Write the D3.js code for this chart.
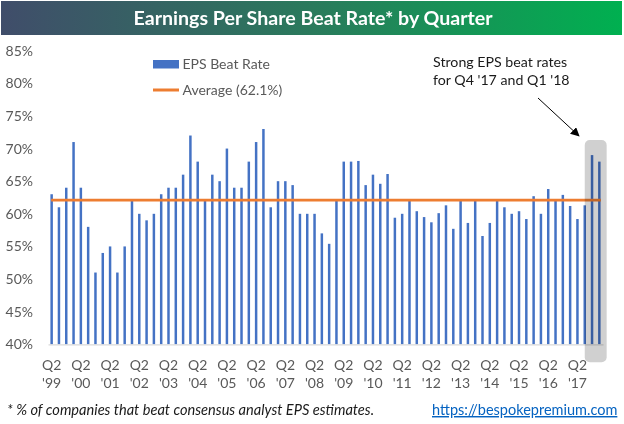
<!DOCTYPE html>
<html><head><meta charset="utf-8">
<script src="https://cdn.jsdelivr.net/npm/d3@7"></script>
<style>body{margin:0;background:#fff}svg{display:block}</style>
</head><body><svg id="c" width="624" height="424"></svg>
<script>
const quarters = [
"Q2 '99","Q3 '99","Q4 '99",
"Q1 '00","Q2 '00","Q3 '00","Q4 '00",
"Q1 '01","Q2 '01","Q3 '01","Q4 '01",
"Q1 '02","Q2 '02","Q3 '02","Q4 '02",
"Q1 '03","Q2 '03","Q3 '03","Q4 '03",
"Q1 '04","Q2 '04","Q3 '04","Q4 '04",
"Q1 '05","Q2 '05","Q3 '05","Q4 '05",
"Q1 '06","Q2 '06","Q3 '06","Q4 '06",
"Q1 '07","Q2 '07","Q3 '07","Q4 '07",
"Q1 '08","Q2 '08","Q3 '08","Q4 '08",
"Q1 '09","Q2 '09","Q3 '09","Q4 '09",
"Q1 '10","Q2 '10","Q3 '10","Q4 '10",
"Q1 '11","Q2 '11","Q3 '11","Q4 '11",
"Q1 '12","Q2 '12","Q3 '12","Q4 '12",
"Q1 '13","Q2 '13","Q3 '13","Q4 '13",
"Q1 '14","Q2 '14","Q3 '14","Q4 '14",
"Q1 '15","Q2 '15","Q3 '15","Q4 '15",
"Q1 '16","Q2 '16","Q3 '16","Q4 '16",
"Q1 '17","Q2 '17","Q3 '17","Q4 '17",
"Q1 '18"];
const beatRate = [
63,61,64,
71,64,58,51,
54,55,51,55,
62,60,59,60,
63,64,64,66,
72,68,62,66,
65,70,64,64,
68,71,73,61,
65,65,64.4,60,
60,60,57,55.4,
62,68,68,68.1,
64.4,66,64.6,66.1,
59.4,60,62,60.4,
59.5,58.7,60.1,61.3,
57.7,62,58.6,62,
56.6,58.6,62,61,
60,60.4,59.2,62.7,
60,63.8,62,62.9,
61.2,59.2,61.3,69,
68];
const averageRate = 62.1;
const yTicks = [40,45,50,55,60,65,70,75,80,85];
const xTickQuarters = ["Q2 '99","Q2 '00","Q2 '01","Q2 '02","Q2 '03","Q2 '04","Q2 '05","Q2 '06","Q2 '07","Q2 '08","Q2 '09","Q2 '10","Q2 '11","Q2 '12","Q2 '13","Q2 '14","Q2 '15","Q2 '16","Q2 '17"];
const highlighted = ["Q4 '17","Q1 '18"];
const seriesNames = ["EPS Beat Rate","Average (62.1%)"];

const FONT = "Lato, 'Open Sans', sans-serif";
const svg = d3.select("#c");
const defs = svg.append("defs");
const grad = defs.append("linearGradient").attr("id","tg").attr("x1","0").attr("x2","1").attr("y1","0").attr("y2","0");
grad.append("stop").attr("offset","0").attr("stop-color","#404d6a");
grad.append("stop").attr("offset","0.5").attr("stop-color","#2a7a5c");
grad.append("stop").attr("offset","1").attr("stop-color","#00b050");
const mk = defs.append("marker").attr("id","ah").attr("viewBox","0 0 10 10").attr("refX","9").attr("refY","5")
  .attr("markerWidth","9").attr("markerHeight","9").attr("markerUnits","userSpaceOnUse").attr("orient","auto");
mk.append("path").attr("d","M0,0L10,5L0,10z").attr("fill","#000");

// title
svg.append("rect").attr("x",1).attr("y",1).attr("width",621).attr("height",34).attr("fill","url(#tg)");
svg.append("text").attr("x",313).attr("y",25).attr("text-anchor","middle").attr("fill","#fff")
  .attr("font-family",FONT).attr("font-weight","bold").attr("font-size",19.6).text("Earnings Per Share Beat Rate* by Quarter");

const x = d3.scaleBand().domain(quarters).range([48,603]).paddingInner(0.66).paddingOuter(0.33);
const y = d3.scaleLinear().domain([40,85]).range([344.3,50.7]);
const xc = q => x(q) + x.bandwidth()/2;

// y axis
const ya = svg.append("g").attr("transform","translate(48,0)")
  .call(d3.axisLeft(y).tickValues(yTicks).tickFormat(d=>d+"%").tickSize(0).tickPadding(15));
ya.select(".domain").remove();
ya.selectAll("text").attr("font-family",FONT).attr("font-size",14).attr("fill","#595959");

// bars
svg.append("g").selectAll("rect").data(beatRate).join("rect")
  .attr("x",(d,i)=>x(quarters[i])).attr("width",x.bandwidth())
  .attr("y",d=>y(d)).attr("height",d=>y(40)-y(d)).attr("fill","#4472c4");

// x axis
const xa = svg.append("g").attr("transform","translate(0,344.3)")
  .call(d3.axisBottom(x).tickValues(xTickQuarters).tickSize(0).tickFormat(""));
xa.select(".domain").attr("stroke","#d9d9d9").attr("stroke-width",1.2);
xa.selectAll(".tick").each(function(q){
  const t = d3.select(this).append("text").attr("fill","#595959").attr("font-family",FONT).attr("font-size",14).attr("text-anchor","middle");
  const parts = q.split(" ");
  t.append("tspan").attr("x",0).attr("y",26).text(parts[0]);
  t.append("tspan").attr("x",0).attr("y",44).text(parts[1]);
});

// average line
const first = quarters[0], last = quarters[quarters.length-1];
svg.append("line").attr("x1",xc(first)-0.5).attr("x2",xc(last)+1.5).attr("y1",y(averageRate)).attr("y2",y(averageRate))
  .attr("stroke","#ed7d31").attr("stroke-width",2.8);

// highlight box
const hv = beatRate.slice(-2);
const bx0 = xc(highlighted[0]) - x.step();
const bx1 = xc(highlighted[1]) + x.step();
svg.append("rect").attr("x",bx0).attr("y",y(d3.max(hv))-15).attr("width",bx1-bx0).attr("height",y(40)+18-(y(d3.max(hv))-15))
  .attr("rx",5).attr("fill","#d0d0d0").style("mix-blend-mode","multiply");

// annotation
const ann = svg.append("text").attr("font-family",FONT).attr("font-size",14.2).attr("fill","#1a1a1a");
ann.append("tspan").attr("x",433).attr("y",67).text("Strong EPS beat rates");
ann.append("tspan").attr("x",433).attr("y",85).text("for Q4 '17 and Q1 '18");
svg.append("line").attr("x1",538).attr("y1",98).attr("x2",579).attr("y2",136).attr("stroke","#000").attr("stroke-width",1).attr("marker-end","url(#ah)");

// legend
const lg = svg.append("g");
lg.append("rect").attr("x",153).attr("y",60).attr("width",26).attr("height",8.5).attr("fill","#4472c4");
lg.append("line").attr("x1",153).attr("x2",179).attr("y1",90).attr("y2",90).attr("stroke","#ed7d31").attr("stroke-width",3);
lg.append("text").attr("x",182.5).attr("y",69).attr("font-family",FONT).attr("font-size",14).attr("fill","#595959").text(seriesNames[0]);
lg.append("text").attr("x",182.5).attr("y",95).attr("font-family",FONT).attr("font-size",14).attr("fill","#595959").text(seriesNames[1]);

// footnote
svg.append("text").attr("x",7).attr("y",415).attr("font-family",FONT).attr("font-style","italic").attr("font-size",14.6).attr("fill","#1a1a1a")
  .text("* % of companies that beat consensus analyst EPS estimates.");
svg.append("text").attr("x",432).attr("y",415).attr("font-family",FONT).attr("font-size",14.5).attr("fill","#0563c1").attr("text-decoration","underline")
  .text("https://bespokepremium.com");
</script></body></html>
